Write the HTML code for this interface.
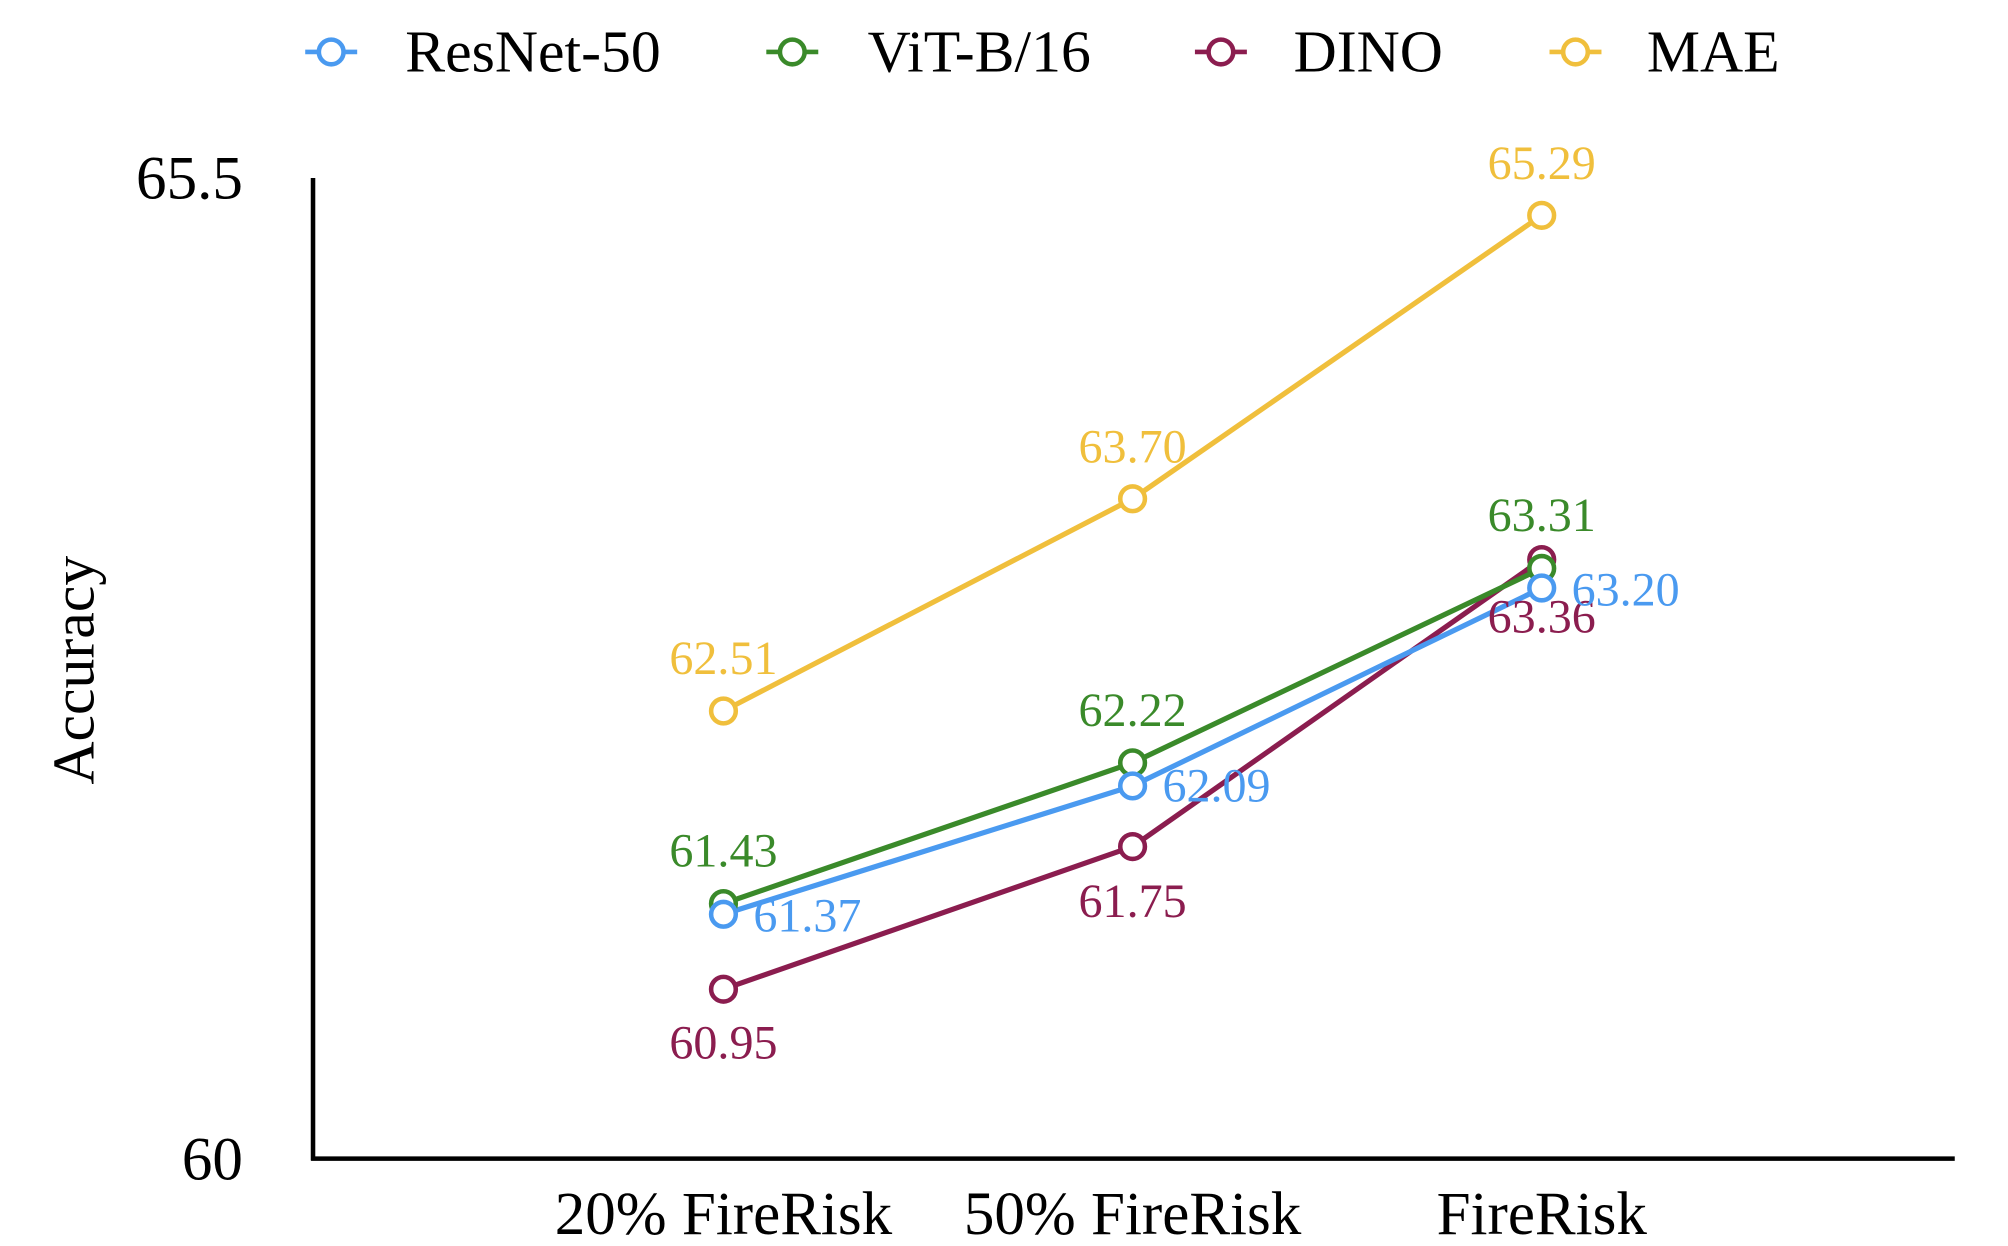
<!DOCTYPE html>
<html><head><meta charset="utf-8"><style>
html,body{margin:0;padding:0;background:#fff;}
svg{display:block;}
text{font-family:"Liberation Serif",serif;}
</style></head><body>
<svg width="2008" height="1246" viewBox="0 0 1546 959.3" preserveAspectRatio="none" xmlns="http://www.w3.org/2000/svg">
<!-- legend -->
<g font-size="46" fill="#000">
<line x1="235" y1="40" x2="275" y2="40" stroke="#4a9af0" stroke-width="3.5"/><circle cx="255" cy="40" r="9.5" fill="#fff" stroke="#4a9af0" stroke-width="3.5"/><text x="312" y="55">ResNet-50</text>
<line x1="590" y1="40" x2="630" y2="40" stroke="#3a8a2a" stroke-width="3.5"/><circle cx="610" cy="40" r="9.5" fill="#fff" stroke="#3a8a2a" stroke-width="3.5"/><text x="668" y="55">ViT-B/16</text>
<line x1="920" y1="40" x2="960" y2="40" stroke="#8b1d4f" stroke-width="3.5"/><circle cx="940" cy="40" r="9.5" fill="#fff" stroke="#8b1d4f" stroke-width="3.5"/><text x="996" y="55">DINO</text>
<line x1="1193" y1="40" x2="1233" y2="40" stroke="#f0bf3c" stroke-width="3.5"/><circle cx="1213" cy="40" r="9.5" fill="#fff" stroke="#f0bf3c" stroke-width="3.5"/><text x="1268" y="55">MAE</text>
</g>
<!-- axes -->
<line x1="241" y1="137" x2="241" y2="893.5" stroke="#000" stroke-width="3.5"/>
<line x1="239.5" y1="892" x2="1505" y2="892" stroke="#000" stroke-width="3.5"/>
<g font-size="47" fill="#000">
<text x="187" y="153" text-anchor="end">65.5</text>
<text x="187" y="908" text-anchor="end">60</text>
<text x="557" y="950" text-anchor="middle">20% FireRisk</text>
<text x="872" y="950" text-anchor="middle">50% FireRisk</text>
<text x="1187" y="950" text-anchor="middle">FireRisk</text>
<text transform="translate(72,516) rotate(-90)" text-anchor="middle" font-size="46">Accuracy</text>
</g>
<!-- series -->
<g fill="none" stroke-width="4">
<polyline stroke="#f0bf3c" points="557,547.4 872,384 1187,165.8"/>
<polyline stroke="#8b1d4f" points="557,761.6 872,651.8 1187,430.8"/>
<polyline stroke="#3a8a2a" points="557,695.7 872,587.3 1187,437.6"/>
<polyline stroke="#4a9af0" points="557,703.9 872,605.1 1187,452.7"/>
</g>
<g fill="#fff" stroke-width="3.5">
<g stroke="#f0bf3c"><circle cx="557" cy="547.4" r="9.5"/><circle cx="872" cy="384" r="9.5"/><circle cx="1187" cy="165.8" r="9.5"/></g>
<g stroke="#8b1d4f"><circle cx="557" cy="761.6" r="9.5"/><circle cx="872" cy="651.8" r="9.5"/><circle cx="1187" cy="430.8" r="9.5"/></g>
<g stroke="#3a8a2a"><circle cx="557" cy="695.7" r="9.5"/><circle cx="872" cy="587.3" r="9.5"/><circle cx="1187" cy="437.6" r="9.5"/></g>
<g stroke="#4a9af0"><circle cx="557" cy="703.9" r="9.5"/><circle cx="872" cy="605.1" r="9.5"/><circle cx="1187" cy="452.7" r="9.5"/></g>
</g>
<!-- value labels -->
<g font-size="37">
<g fill="#f0bf3c" text-anchor="middle"><text x="557" y="519">62.51</text><text x="872" y="356">63.70</text><text x="1187" y="138">65.29</text></g>
<g fill="#3a8a2a" text-anchor="middle"><text x="557" y="667">61.43</text><text x="872" y="559">62.22</text><text x="1187" y="409">63.31</text></g>
<g fill="#8b1d4f" text-anchor="middle"><text x="557" y="815">60.95</text><text x="872" y="706">61.75</text><text x="1187" y="487">63.36</text></g>
<g fill="#4a9af0"><text x="580" y="717">61.37</text><text x="895" y="617">62.09</text><text x="1210" y="466">63.20</text></g>
</g>
</svg>
</body></html>
